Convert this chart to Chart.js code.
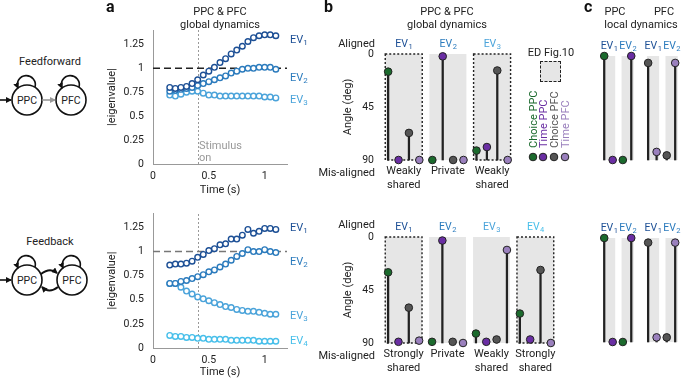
<!DOCTYPE html>
<html>
<head>
<meta charset="utf-8">
<script src="https://cdn.jsdelivr.net/npm/chart.js@4.4.1/dist/chart.umd.min.js"></script>
<style>
  body { margin: 0; background: #fff; }
  #fig { position: relative; width: 685px; height: 382px; overflow: hidden; font-family: Roboto, "DejaVu Sans", sans-serif; color: #222; }
  #fig canvas, #fig svg { position: absolute; }
  .t { position: absolute; font-size: 11px; line-height: 13px; white-space: nowrap; }
  .c { transform: translateX(-50%); text-align: center; }
  .r { transform: translateX(-100%); text-align: right; }
  .lt { position: absolute; font-weight: bold; font-size: 16px; line-height: 16px; color: #111; }
  sub { font-size: 8px; line-height: 0; vertical-align: -2px; }
</style>
</head>
<body>
<div id="fig">
  <!-- network diagrams -->
  <svg width="100" height="382" style="left:0;top:0">
    <defs>
      <marker id="ah" viewBox="0 0 6 6" refX="5" refY="3" markerWidth="6" markerHeight="6" markerUnits="userSpaceOnUse" orient="auto">
        <path d="M0,0 L6,3 L0,6 z" fill="#111"/>
      </marker>
      <marker id="ahg" viewBox="0 0 6 6" refX="5" refY="3" markerWidth="6" markerHeight="6" markerUnits="userSpaceOnUse" orient="auto">
        <path d="M0,0 L6,3 L0,6 z" fill="#999"/>
      </marker>
    </defs>
    <g font-family="Roboto" font-size="11" fill="#222" text-anchor="middle">
      <text x="50" y="65">Feedforward</text>
      <text x="50" y="245">Feedback</text>
    </g>
    <g fill="none" stroke="#111" stroke-width="1.6">
      <circle cx="27" cy="100" r="15"/>
      <circle cx="71" cy="100" r="15"/>
      <circle cx="27" cy="280" r="15"/>
      <circle cx="72" cy="280" r="15"/>
      <line x1="0" y1="100" x2="11" y2="100" marker-end="url(#ah)"/>
      <line x1="0" y1="280" x2="11" y2="280" marker-end="url(#ah)"/>
      <line x1="42" y1="100" x2="55" y2="100" stroke="#999" marker-end="url(#ahg)"/>
      <path d="M35,87 A9,9 0 1 0 18,88" marker-end="url(#ah)"/>
      <path d="M79,87 A9,9 0 1 0 62,88" marker-end="url(#ah)"/>
      <path d="M35,267 A9,9 0 1 0 18,268" marker-end="url(#ah)"/>
      <path d="M80,267 A9,9 0 1 0 63,268" marker-end="url(#ah)"/>
      <path d="M41,274 Q50,267 57,273" stroke-width="2" marker-end="url(#ah)"/>
      <path d="M58,287 Q49,294 42,287" stroke-width="2" marker-end="url(#ah)"/>
    </g>
    <g font-family="Roboto" font-size="10.5" fill="#222" text-anchor="middle">
      <text x="27" y="104">PPC</text>
      <text x="71" y="104">PFC</text>
      <text x="27" y="284">PPC</text>
      <text x="72" y="284">PFC</text>
    </g>
  </svg>

  <canvas id="aTop" width="187" height="199" style="left:106px;top:0px"></canvas>
  <canvas id="aBot" width="187" height="191" style="left:106px;top:190px"></canvas>
  <canvas id="bTop" width="221" height="165" style="left:340px;top:30px"></canvas>
  <canvas id="bBot" width="221" height="165" style="left:340px;top:213px"></canvas>
  <canvas id="cTop" width="90" height="135" style="left:595px;top:30px"></canvas>
  <canvas id="cBot" width="90" height="134" style="left:595px;top:213px"></canvas>

  <!-- panel letters and titles -->
  <div class="lt" style="left:106px;top:-1px">a</div>
  <div class="lt" style="left:324px;top:-1px">b</div>
  <div class="lt" style="left:584px;top:-1px">c</div>
  <div class="t c" style="left:220px;top:5px">PPC &amp; PFC</div>
  <div class="t c" style="left:220px;top:18px">global dynamics</div>
  <div class="t c" style="left:447px;top:5px">PPC &amp; PFC</div>
  <div class="t c" style="left:447px;top:18px">global dynamics</div>
  <div class="t c" style="left:615px;top:5px">PPC</div>
  <div class="t c" style="left:664px;top:5px">PFC</div>
  <div class="t c" style="left:641px;top:18px">local dynamics</div>

  <!-- panel a labels -->
  <div class="t" style="left:199px;top:139px;color:#999">Stimulus</div>
  <div class="t" style="left:199px;top:151px;color:#999">on</div>
  <div class="t" style="left:290px;top:33px;color:#1c4f95">EV<sub>1</sub></div>
  <div class="t" style="left:290px;top:71px;color:#2b7bbd">EV<sub>2</sub></div>
  <div class="t" style="left:290px;top:93px;color:#4aa3da">EV<sub>3</sub></div>
  <div class="t" style="left:290px;top:221px;color:#1c4f95">EV<sub>1</sub></div>
  <div class="t" style="left:290px;top:255px;color:#2b7bbd">EV<sub>2</sub></div>
  <div class="t" style="left:290px;top:309px;color:#4aa3da">EV<sub>3</sub></div>
  <div class="t" style="left:290px;top:334px;color:#47bfea">EV<sub>4</sub></div>

  <!-- panel b side labels -->
  <div class="t r" style="left:375px;top:37px">Aligned</div>
  <div class="t r" style="left:375px;top:166px">Mis-aligned</div>
  <div class="t r" style="left:375px;top:218px">Aligned</div>
  <div class="t r" style="left:375px;top:349px">Mis-aligned</div>

  <!-- legend -->
  <div class="t c" style="left:551px;top:46px">ED Fig.10</div>
  <div style="position:absolute;left:540px;top:61px;width:19px;height:19px;background:#e6e6e6;border:1.4px dashed #222"></div>
  <svg id="leg" width="60" height="140" style="left:525px;top:30px"></svg>
</div>

<script>
// ---------- data ----------
const times = [0.15, 0.2, 0.25, 0.3, 0.35, 0.4, 0.45, 0.5, 0.55, 0.6, 0.65, 0.7, 0.75, 0.8, 0.85, 0.9, 0.95, 1.0, 1.05, 1.1];

// feedforward model, global eigenvalues
const ffEV1 = [0.80, 0.79, 0.80, 0.81, 0.84, 0.88, 0.93, 0.97, 1.01, 1.06, 1.10, 1.15, 1.19, 1.23, 1.28, 1.32, 1.34, 1.35, 1.35, 1.34];
const ffEV2 = [0.76, 0.77, 0.78, 0.79, 0.80, 0.82, 0.84, 0.86, 0.88, 0.90, 0.92, 0.95, 0.97, 0.99, 1.00, 1.00, 1.01, 1.01, 1.01, 0.99];
const ffEV3 = [0.72, 0.71, 0.73, 0.75, 0.76, 0.76, 0.74, 0.72, 0.72, 0.71, 0.71, 0.71, 0.71, 0.71, 0.71, 0.71, 0.71, 0.70, 0.70, 0.69];

// feedback model, global eigenvalues
const fbEV1 = [0.86, 0.87, 0.87, 0.88, 0.90, 0.94, 0.97, 1.01, 1.03, 1.07, 1.08, 1.13, 1.13, 1.17, 1.23, 1.19, 1.21, 1.24, 1.24, 1.23];
const fbEV2 = [0.67, 0.67, 0.69, 0.70, 0.72, 0.74, 0.76, 0.79, 0.81, 0.84, 0.87, 0.91, 0.95, 0.98, 1.02, 1.00, 1.00, 1.02, 1.00, 0.99];
const fbEV3 = [0.67, 0.67, 0.63, 0.59, 0.56, 0.53, 0.51, 0.49, 0.47, 0.45, 0.43, 0.42, 0.40, 0.39, 0.38, 0.38, 0.37, 0.36, 0.35, 0.35];
const fbEV4 = [0.13, 0.12, 0.12, 0.11, 0.11, 0.10, 0.10, 0.09, 0.09, 0.09, 0.09, 0.08, 0.08, 0.08, 0.08, 0.08, 0.07, 0.07, 0.07, 0.07];

const eigTicks = [0, 0.25, 0.5, 0.75, 1, 1.25];
const timeTicks = [0, 0.5, 1];
const angleTicks = [0, 45, 90];

// angles (deg) in order: Choice PPC, Time PPC, Choice PFC, Time PFC
const stemNames = ["Choice PPC", "Time PPC", "Choice PFC", "Time PFC"];
const ffGlobalEV1 = [15, 90, 67, 90];
const ffGlobalEV2 = [90, 2, 90, 90];
const ffGlobalEV3 = [82, 79, 14, 90];
const ffGlobalShare = ["Weakly shared", "Private", "Weakly shared"];
const ffGlobalBoxed = [true, false, true];

const fbGlobalEV1 = [30, 89, 60, 88];
const fbGlobalEV2 = [89, 3, 89, 90];
const fbGlobalEV3 = [82, 89, 87, 11];
const fbGlobalEV4 = [65, 87, 28, 90];
const fbGlobalShare = ["Strongly shared", "Private", "Weakly shared", "Strongly shared"];
const fbGlobalBoxed = [true, false, false, true];

// local dynamics: PPC pairs are [Choice PPC, Time PPC], PFC pairs are [Choice PFC, Time PFC]
const ffLocalPPCEV1 = [0, 90];
const ffLocalPPCEV2 = [90, 0];
const ffLocalPFCEV1 = [6, 83];
const ffLocalPFCEV2 = [86, 6];
const fbLocalPPCEV1 = [0, 90];
const fbLocalPPCEV2 = [90, 0];
const fbLocalPFCEV1 = [4, 86];
const fbLocalPFCEV2 = [86, 4];

// ---------- styles ----------
const evColors = ["#1c4f95", "#2b7bbd", "#4aa3da", "#47bfea"];
const stemColors = ["#1b6a2d", "#6a2ea3", "#555555", "#9a80bd"];
const bandColor = "#e6e6e6";
const FONT = "Roboto";
Chart.defaults.font.family = FONT;
Chart.defaults.color = "#222";

function drawSub(ctx, x, y, base, sub, color) {
    ctx.save();
    ctx.fillStyle = color;
    ctx.textBaseline = "middle";
    ctx.textAlign = "left";
    ctx.font = "10.5px " + FONT;
    const w1 = ctx.measureText(base).width;
    ctx.font = "7.5px " + FONT;
    const w2 = ctx.measureText(sub).width;
    const x0 = x - (w1 + w2) / 2;
    ctx.font = "10.5px " + FONT;
    ctx.fillText(base, x0, y);
    ctx.font = "7.5px " + FONT;
    ctx.fillText(sub, x0 + w1 + 0.5, y + 3.5);
    ctx.restore();
}

// dashed reference lines for the eigenvalue panels
const refLines = {
    id: "refLines",
    beforeDatasetsDraw(chart, args, opts) {
        const { ctx, chartArea } = chart;
        const xs = chart.scales.x, ys = chart.scales.y;
        ctx.save();
        // stimulus onset
        ctx.strokeStyle = "#999";
        ctx.lineWidth = 1;
        ctx.setLineDash([2, 2]);
        const sx = Math.round(xs.getPixelForValue(0.4)) + 0.5;
        ctx.beginPath();
        ctx.moveTo(sx, chartArea.bottom);
        ctx.lineTo(sx, chartArea.top);
        ctx.stroke();
        // |eigenvalue| = 1
        ctx.strokeStyle = opts.color;
        ctx.lineWidth = 1.5;
        ctx.setLineDash([7, 4]);
        const y1 = ys.getPixelForValue(1);
        ctx.beginPath();
        ctx.moveTo(chartArea.left, y1);
        ctx.lineTo(chartArea.right, y1);
        ctx.stroke();
        ctx.restore();
    }
};

function eigChart(id, series, padTop, xHeight, dashColor) {
    new Chart(document.getElementById(id), {
        type: "line",
        data: {
            datasets: series.map((s, k) => ({
                data: times.map((t, i) => ({ x: t, y: s[i] })),
                showLine: false,
                borderColor: evColors[k],
                pointBackgroundColor: "#fff",
                pointBorderColor: evColors[k],
                pointRadius: 2.8,
                pointBorderWidth: 1.4
            }))
        },
        options: {
            responsive: false,
            animation: false,
            events: [],
            layout: { padding: { top: padTop, right: 6, left: 0, bottom: 0 } },
            plugins: { legend: { display: false }, tooltip: { enabled: false }, refLines: { color: dashColor } },
            scales: {
                x: {
                    type: "linear", min: 0, max: 1.2,
                    afterBuildTicks: s => { s.ticks = timeTicks.map(v => ({ value: v })); },
                    afterFit: s => { s.height = xHeight; },
                    grid: { display: false, drawTicks: false },
                    border: { color: "#999", width: 1 },
                    ticks: { padding: 6, font: { size: 10.5 }, callback: v => String(v) },
                    title: { display: true, text: "Time (s)", font: { size: 11 }, padding: { top: 0, bottom: 2 } }
                },
                y: {
                    min: 0, max: 1.4,
                    afterBuildTicks: s => { s.ticks = eigTicks.map(v => ({ value: v })); },
                    afterFit: s => { s.width = 47; },
                    grid: { display: false, drawTicks: false },
                    border: { color: "#999", width: 1 },
                    ticks: { padding: 9, font: { size: 10.5 }, callback: v => String(v) },
                    title: { display: true, text: "|eigenvalue|", font: { size: 11 }, padding: 0 }
                }
            }
        },
        plugins: [refLines]
    });
}

eigChart("aTop", [ffEV1, ffEV2, ffEV3], 30, 35, "#222");
eigChart("aBot", [fbEV1, fbEV2, fbEV3, fbEV4], 23, 33, "#777");

// ---------- lollipop (angle) charts ----------
const stemPlugin = {
    id: "stemDeco",
    beforeDatasetsDraw(chart, args, opts) {
        const { ctx } = chart;
        const xs = chart.scales.x, ys = chart.scales.y;
        const top = ys.getPixelForValue(0), bot = ys.getPixelForValue(90);
        ctx.save();
        opts.groups.forEach(g => {
            const l = xs.getPixelForValue(g.x0 + opts.bandL);
            const r = xs.getPixelForValue(g.x0 + opts.bandR);
            ctx.fillStyle = bandColor;
            ctx.fillRect(l, top, r - l, bot - top);
            if (g.boxed) {
                ctx.strokeStyle = "#222";
                ctx.lineWidth = 1.4;
                ctx.setLineDash([2, 2]);
                ctx.strokeRect(l, top, r - l, bot - top);
            }
        });
        ctx.restore();
    },
    afterDraw(chart, args, opts) {
        const xs = chart.scales.x, ys = chart.scales.y;
        const y = ys.getPixelForValue(0) - 10;
        opts.groups.forEach(g => {
            const cx = (xs.getPixelForValue(g.x0 + opts.bandL) + xs.getPixelForValue(g.x0 + opts.bandR)) / 2;
            drawSub(chart.ctx, cx, y, "EV", String(g.ev + 1), evColors[g.ev]);
        });
    }
};

function stemChart(id, cfg) {
    const stems = [], dots = [], dotColors = [];
    cfg.groups.forEach(g => {
        g.values.forEach((v, i) => {
            const x = g.x0 + i * cfg.stemStep;
            stems.push({ x: x, y: [v, 90] });
            dots.push({ x: x, y: v });
            dotColors.push(stemColors[g.colors[i]]);
        });
    });
    const centers = cfg.groups.map(g => g.x0 + (cfg.bandL + cfg.bandR) / 2);
    const showAxes = !!cfg.share;
    new Chart(document.getElementById(id), {
        type: "bar",
        data: {
            datasets: [
                {
                    type: "line", data: dots, showLine: false, order: 0, clip: false,
                    pointRadius: 3.8, pointBorderWidth: 1,
                    pointBackgroundColor: dotColors, pointBorderColor: "#222"
                },
                {
                    type: "bar", data: stems, order: 1, clip: false,
                    backgroundColor: "#222", borderWidth: 0, barThickness: 1.6
                }
            ]
        },
        options: {
            responsive: false,
            animation: false,
            events: [],
            layout: { padding: cfg.padding },
            plugins: {
                legend: { display: false }, tooltip: { enabled: false },
                stemDeco: { groups: cfg.groups, bandL: cfg.bandL, bandR: cfg.bandR }
            },
            scales: {
                x: {
                    type: "linear", min: cfg.xMin, max: cfg.xMax, offset: false,
                    display: showAxes,
                    afterBuildTicks: s => { s.ticks = centers.map(v => ({ value: v })); },
                    afterFit: s => { if (showAxes) s.height = 35; },
                    grid: { display: false, drawTicks: false },
                    border: { display: false },
                    ticks: {
                        padding: 5, font: { size: 11 }, maxRotation: 0, autoSkip: false,
                        callback: (v, i) => showAxes ? cfg.share[i].split(" ") : ""
                    }
                },
                y: {
                    min: 0, max: 90, reverse: true,
                    display: showAxes,
                    afterBuildTicks: s => { s.ticks = angleTicks.map(v => ({ value: v })); },
                    afterFit: s => { if (showAxes) s.width = 44; },
                    grid: { display: false, drawTicks: false },
                    border: { display: false },
                    ticks: { padding: 10, font: { size: 10.5 } },
                    title: { display: true, text: "Angle (deg)", font: { size: 11 }, padding: { top: 2, bottom: 0 } }
                }
            }
        },
        plugins: [stemPlugin]
    });
}

const gStep = 4.25;
function globalGroups(list, boxed) {
    return list.map((vals, g) => ({ x0: g * gStep, values: vals, colors: [0, 1, 2, 3], ev: g, boxed: boxed[g] }));
}

stemChart("bTop", {
    groups: globalGroups([ffGlobalEV1, ffGlobalEV2, ffGlobalEV3], ffGlobalBoxed),
    share: ffGlobalShare, stemStep: 1, bandL: -0.28, bandR: 3.28,
    xMin: -0.4, xMax: 16.15, padding: { top: 24, right: 0, left: 0, bottom: 0 }
});
stemChart("bBot", {
    groups: globalGroups([fbGlobalEV1, fbGlobalEV2, fbGlobalEV3, fbGlobalEV4], fbGlobalBoxed),
    share: fbGlobalShare, stemStep: 1, bandL: -0.28, bandR: 3.28,
    xMin: -0.4, xMax: 16.15, padding: { top: 24, right: 0, left: 0, bottom: 0 }
});

function localGroups(ppc1, ppc2, pfc1, pfc2) {
    return [
        { x0: 0, values: ppc1, colors: [0, 1], ev: 0 },
        { x0: 2.2, values: ppc2, colors: [0, 1], ev: 1 },
        { x0: 5.2, values: pfc1, colors: [2, 3], ev: 0 },
        { x0: 7.4, values: pfc2, colors: [2, 3], ev: 1 }
    ];
}

stemChart("cTop", {
    groups: localGroups(ffLocalPPCEV1, ffLocalPPCEV2, ffLocalPFCEV1, ffLocalPFCEV2),
    stemStep: 1, bandL: -0.15, bandR: 1.3,
    xMin: -0.5, xMax: 8.97, padding: { top: 26, right: 0, left: 0, bottom: 5 }
});
stemChart("cBot", {
    groups: localGroups(fbLocalPPCEV1, fbLocalPPCEV2, fbLocalPFCEV1, fbLocalPFCEV2),
    stemStep: 1, bandL: -0.15, bandR: 1.3,
    xMin: -0.5, xMax: 8.97, padding: { top: 25, right: 0, left: 0, bottom: 5 }
});

// ---------- legend (rotated names + dots) ----------
const leg = document.getElementById("leg");
const legX = [8, 18, 29, 40];
const svgNS = "http://www.w3.org/2000/svg";
stemNames.forEach((name, i) => {
    const t = document.createElementNS(svgNS, "text");
    t.setAttribute("transform", "translate(" + (legX[i] + 4) + ",118) rotate(-90)");
    t.setAttribute("font-family", FONT);
    t.setAttribute("font-size", "11");
    t.setAttribute("fill", stemColors[i]);
    t.textContent = name;
    leg.appendChild(t);
    const c = document.createElementNS(svgNS, "circle");
    c.setAttribute("cx", legX[i]);
    c.setAttribute("cy", 127);
    c.setAttribute("r", 3.8);
    c.setAttribute("fill", stemColors[i]);
    c.setAttribute("stroke", "#222");
    c.setAttribute("stroke-width", 1);
    leg.appendChild(c);
});
</script>
</body>
</html>
